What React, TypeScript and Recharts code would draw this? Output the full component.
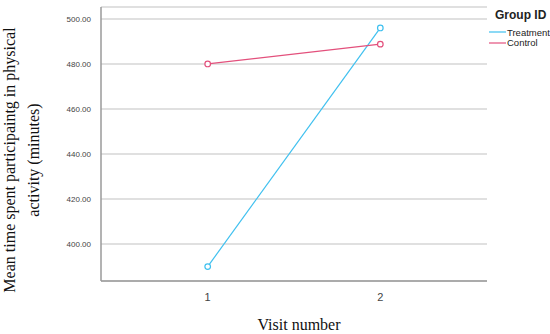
import { LineChart, Line, XAxis, YAxis, CartesianGrid } from 'recharts'

const visits = [1, 2]
const treatment = [390.0, 496.0]
const control = [480.0, 488.8]
const yTicks = [400, 420, 440, 460, 480, 500]
const groups = ['Treatment', 'Control'] as const

const COLOURS = { Treatment: '#3fc0ef', Control: '#e3507c' }

const data = visits.map((v, i) => ({ visit: v, Treatment: treatment[i], Control: control[i] }))

const serif = '"Liberation Serif", "DejaVu Serif", serif'
const sans = '"Liberation Sans", Arial, sans-serif'

// legend sits outside the plot, so draw it as plain html over the chart
function GroupLegend() {
  return (
    <div style={{ position: 'absolute', left: 489, top: 8, width: 61, fontFamily: sans, color: '#222' }}>
      <div style={{ fontWeight: 'bold', fontSize: 12, marginLeft: 6, lineHeight: '14px' }}>Group ID</div>
      {groups.map((k, i) => (
        <div key={k} style={{ display: 'flex', alignItems: 'center', height: 10.5, fontSize: 9.5, marginTop: i === 0 ? 5 : 0 }}>
          <svg width={17} height={4}><line x1={0} y1={2} x2={17} y2={2} stroke={COLOURS[k]} strokeWidth={1.2} /></svg>
          <span style={{ marginLeft: 1 }}>{k}</span>
        </div>
      ))}
    </div>
  )
}

function YTitle() {
  return (
    <g fontFamily={serif} fontSize={16} fill="#111" textAnchor="middle">
      <text transform="translate(15,160) rotate(-90)">Mean time spent participaintg in physical</text>
      <text transform="translate(39,160) rotate(-90)">activity (minutes)</text>
    </g>
  )
}

function XTitle() {
  return (
    <text x={299} y={330} fontFamily={serif} fontSize={16} fill="#111" textAnchor="middle">
      Visit number
    </text>
  )
}

export default function App() {
  return (
    <div style={{ position: 'absolute', left: 0, top: 0, width: 550, height: 334, background: '#fff' }}>
      <LineChart width={550} height={334} data={data} margin={{ top: 7, right: 63, bottom: 23, left: 41 }}>
        <CartesianGrid vertical={false} stroke="#d6d6d6" strokeWidth={1.5} />
        <XAxis
          dataKey="visit"
          type="number"
          domain={[0.382, 2.618]}
          ticks={visits}
          height={30}
          tickLine={false}
          tickMargin={6}
          axisLine={{ stroke: '#9a9a9a', strokeWidth: 1.5 }}
          tick={{ fontSize: 11, fill: '#444', fontFamily: sans }}
          label={{ content: () => <XTitle /> }}
        />
        <YAxis
          type="number"
          domain={[383.6, 505.3]}
          ticks={yTicks}
          width={60}
          tickLine={false}
          tickMargin={4}
          axisLine={{ stroke: '#9a9a9a', strokeWidth: 1.5 }}
          tickFormatter={(v: number) => v.toFixed(2)}
          tick={{ fontSize: 8, fill: '#444', fontFamily: sans }}
          label={{ content: () => <YTitle /> }}
        />
        <Line
          dataKey="Treatment"
          stroke={COLOURS.Treatment}
          strokeWidth={1.2}
          dot={{ r: 2.8, fill: '#fff', stroke: COLOURS.Treatment, strokeWidth: 1.2 }}
          isAnimationActive={false}
        />
        <Line
          dataKey="Control"
          stroke={COLOURS.Control}
          strokeWidth={1.2}
          dot={{ r: 2.8, fill: '#fff', stroke: COLOURS.Control, strokeWidth: 1.2 }}
          isAnimationActive={false}
        />
      </LineChart>
      <GroupLegend />
    </div>
  )
}
